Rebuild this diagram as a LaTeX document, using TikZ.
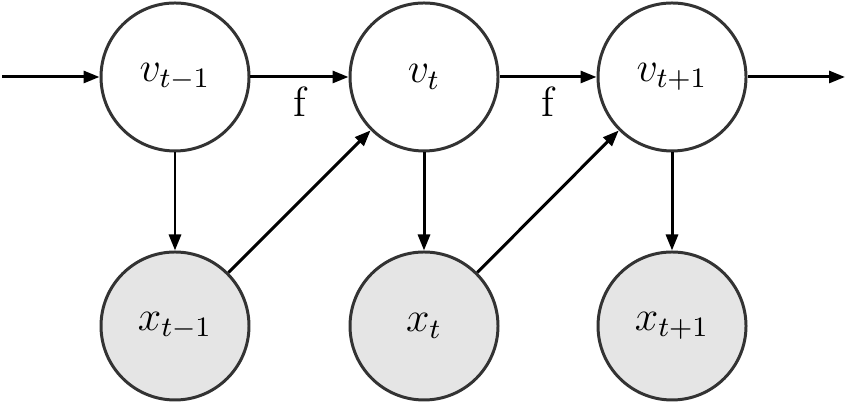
\documentclass[tikz,border=0pt]{standalone}
\usepackage{amsmath}
\usetikzlibrary{arrows.meta,positioning}

\begin{document}
\begin{tikzpicture}
	\useasboundingbox (0,0) rectangle (8.49,4.05);
	\begin{scope}[every node/.style={circle,draw=black!80,line width=0.85pt,minimum size=1.48cm,inner sep=0pt,font=\large}]
		\node (vtm) at (1.75,3.28) {$v_{t-1}$};
		\node (vt) at (4.24,3.28) {$v_t$};
		\node (vtp) at (6.72,3.28) {$v_{t+1}$};
		\node[fill=black!10] (xtm) at (1.75,0.79) {$x_{t-1}$};
		\node[fill=black!10] (xt) at (4.24,0.79) {$x_t$};
		\node[fill=black!10] (xtp) at (6.72,0.79) {$x_{t+1}$};
	\end{scope}
	\coordinate (anfang) at (0.02,3.28);
	\coordinate (ende) at (8.45,3.28);

	\begin{scope}[>={Triangle[length=1.6mm,width=1.2mm]},line width=0.85pt,
	]
		\path[->] (anfang) edge node {} (vtm);
		\path[->] (vtm) edge node[below=-1pt,font=\large] {f} (vt);
		\path[->] (vt) edge node[below=-1pt,font=\large] {f} (vtp);
		\path[->] (vtp) edge node {} (ende);
		\path[->] (vtm) edge node {} (xtm);
		\path[->] (vt) edge node {} (xt);
		\path[->] (vtp) edge node {} (xtp);
		\path[->] (xtm) edge node {} (vt);
		\path[->] (xt) edge node {} (vtp);
	\end{scope}
\end{tikzpicture}
\end{document}
